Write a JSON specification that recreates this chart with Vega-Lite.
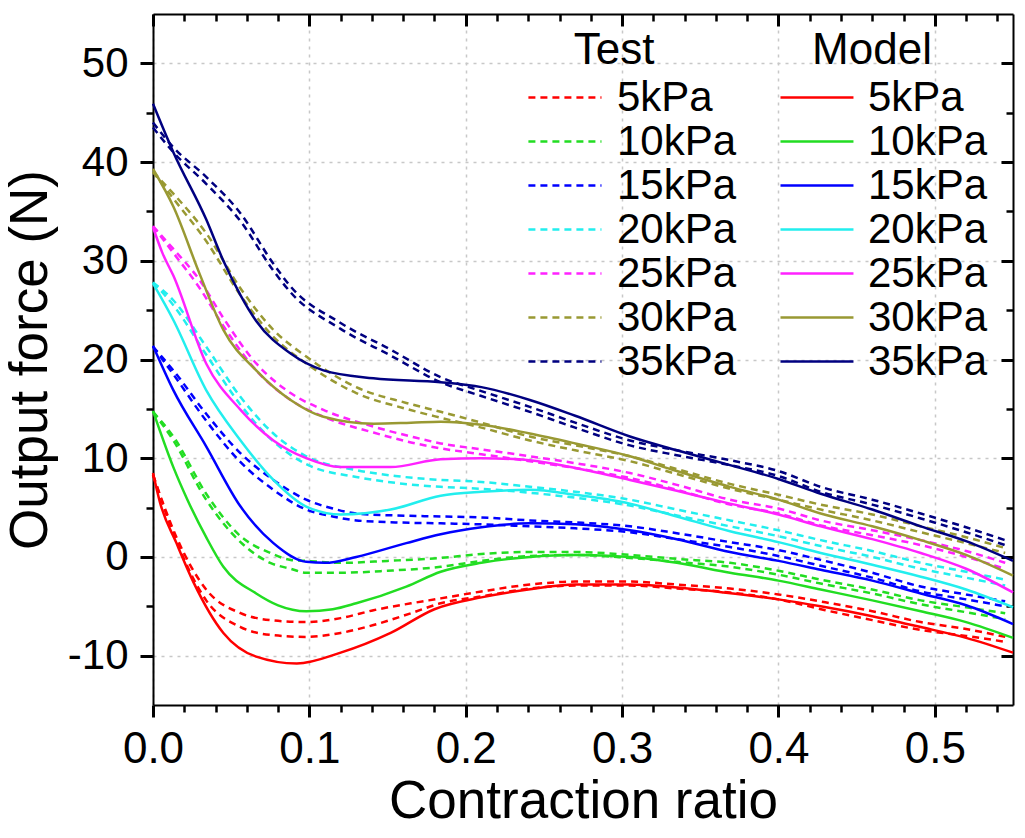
{
  "$schema": "https://vega.github.io/schema/vega-lite/v6.json",
  "width": 860,
  "height": 691,
  "autosize": "none",
  "padding": {"left": 153, "top": 14, "right": 12, "bottom": 133},
  "background": "white",
  "config": {
    "font": "Liberation Sans",
    "view": {"stroke": null},
    "axis": {
      "domainColor": "black", "domainWidth": 2,
      "labelFont": "Liberation Sans", "titleFont": "Liberation Sans",
      "labelColor": "black", "titleColor": "black", "titleFontWeight": "normal"
    }
  },
  "datasets": {
    "model": [
      {"p":"5kPa","x":0,"y":8.5},{"p":"5kPa","x":0.0045,"y":5.5},{"p":"5kPa","x":0.015,"y":1.4},{"p":"5kPa","x":0.026,"y":-2.6},{"p":"5kPa","x":0.045,"y":-7.7},{"p":"5kPa","x":0.066,"y":-10.1},{"p":"5kPa","x":0.092,"y":-10.8},{"p":"5kPa","x":0.12,"y":-9.7},{"p":"5kPa","x":0.152,"y":-7.7},{"p":"5kPa","x":0.18,"y":-5.3},{"p":"5kPa","x":0.21,"y":-4.1},{"p":"5kPa","x":0.24,"y":-3.3},{"p":"5kPa","x":0.27,"y":-2.8},{"p":"5kPa","x":0.305,"y":-2.8},{"p":"5kPa","x":0.335,"y":-3.1},{"p":"5kPa","x":0.365,"y":-3.6},{"p":"5kPa","x":0.4,"y":-4.3},{"p":"5kPa","x":0.427,"y":-5.0},{"p":"5kPa","x":0.46,"y":-6.0},{"p":"5kPa","x":0.491,"y":-7.1},{"p":"5kPa","x":0.52,"y":-8.2},{"p":"5kPa","x":0.55,"y":-9.7},
      {"p":"10kPa","x":0,"y":14.8},{"p":"10kPa","x":0.013,"y":9.1},{"p":"10kPa","x":0.022,"y":5.8},{"p":"10kPa","x":0.034,"y":2.0},{"p":"10kPa","x":0.045,"y":-1.0},{"p":"10kPa","x":0.066,"y":-3.7},{"p":"10kPa","x":0.08,"y":-4.9},{"p":"10kPa","x":0.098,"y":-5.5},{"p":"10kPa","x":0.115,"y":-5.3},{"p":"10kPa","x":0.13,"y":-4.7},{"p":"10kPa","x":0.162,"y":-3.0},{"p":"10kPa","x":0.184,"y":-1.5},{"p":"10kPa","x":0.21,"y":-0.6},{"p":"10kPa","x":0.241,"y":0.0},{"p":"10kPa","x":0.27,"y":0.2},{"p":"10kPa","x":0.305,"y":0.0},{"p":"10kPa","x":0.335,"y":-0.6},{"p":"10kPa","x":0.369,"y":-1.6},{"p":"10kPa","x":0.4,"y":-2.4},{"p":"10kPa","x":0.427,"y":-3.3},{"p":"10kPa","x":0.46,"y":-4.4},{"p":"10kPa","x":0.491,"y":-5.5},{"p":"10kPa","x":0.52,"y":-6.6},{"p":"10kPa","x":0.55,"y":-8.2},
      {"p":"15kPa","x":0,"y":21.4},{"p":"15kPa","x":0.013,"y":16.9},{"p":"15kPa","x":0.034,"y":11.2},{"p":"15kPa","x":0.056,"y":5.1},{"p":"15kPa","x":0.077,"y":1.4},{"p":"15kPa","x":0.098,"y":-0.5},{"p":"15kPa","x":0.11,"y":-0.6},{"p":"15kPa","x":0.13,"y":0.0},{"p":"15kPa","x":0.162,"y":1.4},{"p":"15kPa","x":0.184,"y":2.3},{"p":"15kPa","x":0.21,"y":3.0},{"p":"15kPa","x":0.241,"y":3.4},{"p":"15kPa","x":0.27,"y":3.3},{"p":"15kPa","x":0.305,"y":2.7},{"p":"15kPa","x":0.335,"y":1.8},{"p":"15kPa","x":0.369,"y":0.5},{"p":"15kPa","x":0.4,"y":-0.4},{"p":"15kPa","x":0.427,"y":-1.3},{"p":"15kPa","x":0.46,"y":-2.4},{"p":"15kPa","x":0.491,"y":-3.7},{"p":"15kPa","x":0.52,"y":-4.9},{"p":"15kPa","x":0.55,"y":-6.8},
      {"p":"20kPa","x":0,"y":27.7},{"p":"20kPa","x":0.013,"y":24.0},{"p":"20kPa","x":0.034,"y":16.9},{"p":"20kPa","x":0.056,"y":11.8},{"p":"20kPa","x":0.077,"y":7.8},{"p":"20kPa","x":0.098,"y":5.1},{"p":"20kPa","x":0.12,"y":4.3},{"p":"20kPa","x":0.152,"y":4.8},{"p":"20kPa","x":0.184,"y":6.2},{"p":"20kPa","x":0.21,"y":6.6},{"p":"20kPa","x":0.241,"y":6.8},{"p":"20kPa","x":0.27,"y":6.3},{"p":"20kPa","x":0.305,"y":5.4},{"p":"20kPa","x":0.335,"y":4.1},{"p":"20kPa","x":0.369,"y":2.6},{"p":"20kPa","x":0.4,"y":1.5},{"p":"20kPa","x":0.427,"y":0.4},{"p":"20kPa","x":0.46,"y":-0.8},{"p":"20kPa","x":0.491,"y":-2.0},{"p":"20kPa","x":0.52,"y":-3.3},{"p":"20kPa","x":0.55,"y":-5.1},
      {"p":"25kPa","x":0,"y":33.4},{"p":"25kPa","x":0.006,"y":30.8},{"p":"25kPa","x":0.013,"y":28.5},{"p":"25kPa","x":0.034,"y":19.6},{"p":"25kPa","x":0.056,"y":14.9},{"p":"25kPa","x":0.077,"y":11.8},{"p":"25kPa","x":0.098,"y":10.0},{"p":"25kPa","x":0.12,"y":9.1},{"p":"25kPa","x":0.152,"y":9.1},{"p":"25kPa","x":0.184,"y":9.9},{"p":"25kPa","x":0.21,"y":10.0},{"p":"25kPa","x":0.241,"y":9.8},{"p":"25kPa","x":0.27,"y":9.0},{"p":"25kPa","x":0.305,"y":7.8},{"p":"25kPa","x":0.335,"y":6.7},{"p":"25kPa","x":0.369,"y":5.4},{"p":"25kPa","x":0.4,"y":4.3},{"p":"25kPa","x":0.427,"y":3.1},{"p":"25kPa","x":0.46,"y":1.8},{"p":"25kPa","x":0.491,"y":0.4},{"p":"25kPa","x":0.52,"y":-1.2},{"p":"25kPa","x":0.55,"y":-3.6},
      {"p":"30kPa","x":0,"y":39.3},{"p":"30kPa","x":0.013,"y":35.5},{"p":"30kPa","x":0.03,"y":28.6},{"p":"30kPa","x":0.045,"y":23.0},{"p":"30kPa","x":0.066,"y":18.9},{"p":"30kPa","x":0.088,"y":15.9},{"p":"30kPa","x":0.109,"y":14.2},{"p":"30kPa","x":0.141,"y":13.5},{"p":"30kPa","x":0.165,"y":13.6},{"p":"30kPa","x":0.184,"y":13.7},{"p":"30kPa","x":0.21,"y":13.4},{"p":"30kPa","x":0.241,"y":12.5},{"p":"30kPa","x":0.27,"y":11.5},{"p":"30kPa","x":0.305,"y":10.2},{"p":"30kPa","x":0.335,"y":8.7},{"p":"30kPa","x":0.369,"y":7.1},{"p":"30kPa","x":0.4,"y":5.8},{"p":"30kPa","x":0.427,"y":4.4},{"p":"30kPa","x":0.46,"y":3.1},{"p":"30kPa","x":0.491,"y":1.7},{"p":"30kPa","x":0.52,"y":0.2},{"p":"30kPa","x":0.55,"y":-1.9},
      {"p":"35kPa","x":0,"y":45.9},{"p":"35kPa","x":0.013,"y":41.0},{"p":"35kPa","x":0.034,"y":34.2},{"p":"35kPa","x":0.045,"y":30.0},{"p":"35kPa","x":0.056,"y":26.5},{"p":"35kPa","x":0.066,"y":23.9},{"p":"35kPa","x":0.088,"y":20.6},{"p":"35kPa","x":0.109,"y":18.9},{"p":"35kPa","x":0.141,"y":18.1},{"p":"35kPa","x":0.184,"y":17.7},{"p":"35kPa","x":0.21,"y":17.2},{"p":"35kPa","x":0.241,"y":15.9},{"p":"35kPa","x":0.27,"y":14.3},{"p":"35kPa","x":0.305,"y":12.2},{"p":"35kPa","x":0.335,"y":10.8},{"p":"35kPa","x":0.369,"y":9.3},{"p":"35kPa","x":0.4,"y":7.9},{"p":"35kPa","x":0.427,"y":6.4},{"p":"35kPa","x":0.46,"y":4.8},{"p":"35kPa","x":0.491,"y":3.1},{"p":"35kPa","x":0.52,"y":1.6},{"p":"35kPa","x":0.55,"y":-0.4}
    ],
    "test": [
      {"p":"5kPa","s":"A","x":0,"y":8.3},{"p":"5kPa","s":"A","x":0.015,"y":2.0},{"p":"5kPa","s":"A","x":0.034,"y":-3.3},{"p":"5kPa","s":"A","x":0.056,"y":-5.7},{"p":"5kPa","s":"A","x":0.075,"y":-6.4},{"p":"5kPa","s":"A","x":0.098,"y":-6.6},{"p":"5kPa","s":"A","x":0.12,"y":-6.2},{"p":"5kPa","s":"A","x":0.141,"y":-5.4},{"p":"5kPa","s":"A","x":0.165,"y":-4.7},{"p":"5kPa","s":"A","x":0.184,"y":-4.2},{"p":"5kPa","s":"A","x":0.21,"y":-3.5},{"p":"5kPa","s":"A","x":0.241,"y":-2.8},{"p":"5kPa","s":"A","x":0.27,"y":-2.5},{"p":"5kPa","s":"A","x":0.305,"y":-2.5},{"p":"5kPa","s":"A","x":0.335,"y":-2.8},{"p":"5kPa","s":"A","x":0.369,"y":-3.2},{"p":"5kPa","s":"A","x":0.4,"y":-3.8},{"p":"5kPa","s":"A","x":0.43,"y":-4.6},{"p":"5kPa","s":"A","x":0.46,"y":-5.5},{"p":"5kPa","s":"A","x":0.491,"y":-6.6},{"p":"5kPa","s":"A","x":0.52,"y":-7.3},{"p":"5kPa","s":"A","x":0.545,"y":-8.1},
      {"p":"5kPa","s":"B","x":0,"y":8.3},{"p":"5kPa","s":"B","x":0.015,"y":1.6},{"p":"5kPa","s":"B","x":0.034,"y":-4.4},{"p":"5kPa","s":"B","x":0.056,"y":-7.1},{"p":"5kPa","s":"B","x":0.075,"y":-7.9},{"p":"5kPa","s":"B","x":0.098,"y":-8.1},{"p":"5kPa","s":"B","x":0.12,"y":-7.7},{"p":"5kPa","s":"B","x":0.141,"y":-6.9},{"p":"5kPa","s":"B","x":0.165,"y":-5.7},{"p":"5kPa","s":"B","x":0.184,"y":-4.7},{"p":"5kPa","s":"B","x":0.21,"y":-4.0},{"p":"5kPa","s":"B","x":0.241,"y":-3.2},{"p":"5kPa","s":"B","x":0.27,"y":-2.9},{"p":"5kPa","s":"B","x":0.305,"y":-2.9},{"p":"5kPa","s":"B","x":0.335,"y":-3.2},{"p":"5kPa","s":"B","x":0.369,"y":-3.6},{"p":"5kPa","s":"B","x":0.4,"y":-4.3},{"p":"5kPa","s":"B","x":0.43,"y":-5.4},{"p":"5kPa","s":"B","x":0.46,"y":-6.4},{"p":"5kPa","s":"B","x":0.491,"y":-7.4},{"p":"5kPa","s":"B","x":0.52,"y":-8.0},{"p":"5kPa","s":"B","x":0.545,"y":-8.6},
      {"p":"10kPa","s":"A","x":0,"y":14.7},{"p":"10kPa","s":"A","x":0.013,"y":12.2},{"p":"10kPa","s":"A","x":0.034,"y":6.4},{"p":"10kPa","s":"A","x":0.056,"y":2.1},{"p":"10kPa","s":"A","x":0.075,"y":0.4},{"p":"10kPa","s":"A","x":0.088,"y":-0.3},{"p":"10kPa","s":"A","x":0.098,"y":-0.4},{"p":"10kPa","s":"A","x":0.12,"y":-0.6},{"p":"10kPa","s":"A","x":0.15,"y":-0.4},{"p":"10kPa","s":"A","x":0.184,"y":-0.1},{"p":"10kPa","s":"A","x":0.21,"y":0.3},{"p":"10kPa","s":"A","x":0.241,"y":0.5},{"p":"10kPa","s":"A","x":0.27,"y":0.5},{"p":"10kPa","s":"A","x":0.305,"y":0.2},{"p":"10kPa","s":"A","x":0.335,"y":-0.2},{"p":"10kPa","s":"A","x":0.369,"y":-0.6},{"p":"10kPa","s":"A","x":0.4,"y":-1.4},{"p":"10kPa","s":"A","x":0.427,"y":-2.3},{"p":"10kPa","s":"A","x":0.46,"y":-3.3},{"p":"10kPa","s":"A","x":0.491,"y":-4.4},{"p":"10kPa","s":"A","x":0.52,"y":-5.1},{"p":"10kPa","s":"A","x":0.545,"y":-5.7},
      {"p":"10kPa","s":"B","x":0,"y":14.7},{"p":"10kPa","s":"B","x":0.013,"y":11.8},{"p":"10kPa","s":"B","x":0.034,"y":5.8},{"p":"10kPa","s":"B","x":0.056,"y":1.5},{"p":"10kPa","s":"B","x":0.075,"y":-0.6},{"p":"10kPa","s":"B","x":0.088,"y":-1.2},{"p":"10kPa","s":"B","x":0.098,"y":-1.6},{"p":"10kPa","s":"B","x":0.12,"y":-1.6},{"p":"10kPa","s":"B","x":0.15,"y":-1.4},{"p":"10kPa","s":"B","x":0.184,"y":-1.0},{"p":"10kPa","s":"B","x":0.21,"y":-0.4},{"p":"10kPa","s":"B","x":0.241,"y":0.1},{"p":"10kPa","s":"B","x":0.27,"y":0.2},{"p":"10kPa","s":"B","x":0.305,"y":-0.1},{"p":"10kPa","s":"B","x":0.335,"y":-0.5},{"p":"10kPa","s":"B","x":0.369,"y":-1.0},{"p":"10kPa","s":"B","x":0.4,"y":-1.8},{"p":"10kPa","s":"B","x":0.427,"y":-2.7},{"p":"10kPa","s":"B","x":0.46,"y":-3.7},{"p":"10kPa","s":"B","x":0.491,"y":-4.8},{"p":"10kPa","s":"B","x":0.52,"y":-5.6},{"p":"10kPa","s":"B","x":0.545,"y":-6.3},
      {"p":"15kPa","s":"A","x":0,"y":21.3},{"p":"15kPa","s":"A","x":0.013,"y":18.9},{"p":"15kPa","s":"A","x":0.034,"y":14.5},{"p":"15kPa","s":"A","x":0.056,"y":10.5},{"p":"15kPa","s":"A","x":0.077,"y":7.8},{"p":"15kPa","s":"A","x":0.098,"y":5.8},{"p":"15kPa","s":"A","x":0.115,"y":4.9},{"p":"15kPa","s":"A","x":0.13,"y":4.4},{"p":"15kPa","s":"A","x":0.155,"y":4.2},{"p":"15kPa","s":"A","x":0.184,"y":4.1},{"p":"15kPa","s":"A","x":0.21,"y":4.0},{"p":"15kPa","s":"A","x":0.241,"y":3.7},{"p":"15kPa","s":"A","x":0.27,"y":3.5},{"p":"15kPa","s":"A","x":0.305,"y":3.1},{"p":"15kPa","s":"A","x":0.335,"y":2.4},{"p":"15kPa","s":"A","x":0.369,"y":1.5},{"p":"15kPa","s":"A","x":0.4,"y":0.7},{"p":"15kPa","s":"A","x":0.427,"y":-0.3},{"p":"15kPa","s":"A","x":0.46,"y":-1.6},{"p":"15kPa","s":"A","x":0.491,"y":-3.0},{"p":"15kPa","s":"A","x":0.52,"y":-3.8},{"p":"15kPa","s":"A","x":0.545,"y":-4.5},
      {"p":"15kPa","s":"B","x":0,"y":21.3},{"p":"15kPa","s":"B","x":0.013,"y":18.5},{"p":"15kPa","s":"B","x":0.034,"y":13.8},{"p":"15kPa","s":"B","x":0.056,"y":9.6},{"p":"15kPa","s":"B","x":0.077,"y":6.8},{"p":"15kPa","s":"B","x":0.098,"y":4.8},{"p":"15kPa","s":"B","x":0.115,"y":4.1},{"p":"15kPa","s":"B","x":0.13,"y":3.7},{"p":"15kPa","s":"B","x":0.155,"y":3.5},{"p":"15kPa","s":"B","x":0.184,"y":3.4},{"p":"15kPa","s":"B","x":0.21,"y":3.3},{"p":"15kPa","s":"B","x":0.241,"y":3.1},{"p":"15kPa","s":"B","x":0.27,"y":2.9},{"p":"15kPa","s":"B","x":0.305,"y":2.5},{"p":"15kPa","s":"B","x":0.335,"y":1.8},{"p":"15kPa","s":"B","x":0.369,"y":1.0},{"p":"15kPa","s":"B","x":0.4,"y":0.1},{"p":"15kPa","s":"B","x":0.427,"y":-0.9},{"p":"15kPa","s":"B","x":0.46,"y":-2.1},{"p":"15kPa","s":"B","x":0.491,"y":-3.5},{"p":"15kPa","s":"B","x":0.52,"y":-4.3},{"p":"15kPa","s":"B","x":0.545,"y":-5.0},
      {"p":"20kPa","s":"A","x":0,"y":27.8},{"p":"20kPa","s":"A","x":0.013,"y":26.0},{"p":"20kPa","s":"A","x":0.034,"y":21.3},{"p":"20kPa","s":"A","x":0.056,"y":16.2},{"p":"20kPa","s":"A","x":0.077,"y":12.5},{"p":"20kPa","s":"A","x":0.098,"y":10.2},{"p":"20kPa","s":"A","x":0.13,"y":8.8},{"p":"20kPa","s":"A","x":0.155,"y":8.2},{"p":"20kPa","s":"A","x":0.184,"y":7.8},{"p":"20kPa","s":"A","x":0.21,"y":7.6},{"p":"20kPa","s":"A","x":0.241,"y":7.1},{"p":"20kPa","s":"A","x":0.27,"y":6.6},{"p":"20kPa","s":"A","x":0.305,"y":5.8},{"p":"20kPa","s":"A","x":0.335,"y":4.8},{"p":"20kPa","s":"A","x":0.369,"y":3.7},{"p":"20kPa","s":"A","x":0.4,"y":2.7},{"p":"20kPa","s":"A","x":0.427,"y":1.7},{"p":"20kPa","s":"A","x":0.46,"y":0.6},{"p":"20kPa","s":"A","x":0.491,"y":-0.6},{"p":"20kPa","s":"A","x":0.52,"y":-1.5},{"p":"20kPa","s":"A","x":0.545,"y":-2.3},
      {"p":"20kPa","s":"B","x":0,"y":27.8},{"p":"20kPa","s":"B","x":0.013,"y":25.5},{"p":"20kPa","s":"B","x":0.034,"y":20.5},{"p":"20kPa","s":"B","x":0.056,"y":15.4},{"p":"20kPa","s":"B","x":0.077,"y":11.7},{"p":"20kPa","s":"B","x":0.098,"y":9.4},{"p":"20kPa","s":"B","x":0.13,"y":8.1},{"p":"20kPa","s":"B","x":0.155,"y":7.5},{"p":"20kPa","s":"B","x":0.184,"y":7.1},{"p":"20kPa","s":"B","x":0.21,"y":6.9},{"p":"20kPa","s":"B","x":0.241,"y":6.5},{"p":"20kPa","s":"B","x":0.27,"y":6.0},{"p":"20kPa","s":"B","x":0.305,"y":5.2},{"p":"20kPa","s":"B","x":0.335,"y":4.2},{"p":"20kPa","s":"B","x":0.369,"y":3.1},{"p":"20kPa","s":"B","x":0.4,"y":2.1},{"p":"20kPa","s":"B","x":0.427,"y":1.1},{"p":"20kPa","s":"B","x":0.46,"y":0.0},{"p":"20kPa","s":"B","x":0.491,"y":-1.2},{"p":"20kPa","s":"B","x":0.52,"y":-2.1},{"p":"20kPa","s":"B","x":0.545,"y":-2.9},
      {"p":"25kPa","s":"A","x":0,"y":33.5},{"p":"25kPa","s":"A","x":0.013,"y":31.2},{"p":"25kPa","s":"A","x":0.03,"y":28.0},{"p":"25kPa","s":"A","x":0.045,"y":24.2},{"p":"25kPa","s":"A","x":0.066,"y":19.6},{"p":"25kPa","s":"A","x":0.088,"y":16.6},{"p":"25kPa","s":"A","x":0.109,"y":14.9},{"p":"25kPa","s":"A","x":0.141,"y":13.2},{"p":"25kPa","s":"A","x":0.165,"y":12.2},{"p":"25kPa","s":"A","x":0.184,"y":11.5},{"p":"25kPa","s":"A","x":0.21,"y":10.9},{"p":"25kPa","s":"A","x":0.241,"y":10.2},{"p":"25kPa","s":"A","x":0.27,"y":9.5},{"p":"25kPa","s":"A","x":0.305,"y":8.5},{"p":"25kPa","s":"A","x":0.335,"y":7.3},{"p":"25kPa","s":"A","x":0.369,"y":5.8},{"p":"25kPa","s":"A","x":0.4,"y":4.9},{"p":"25kPa","s":"A","x":0.427,"y":3.7},{"p":"25kPa","s":"A","x":0.46,"y":2.7},{"p":"25kPa","s":"A","x":0.491,"y":1.7},{"p":"25kPa","s":"A","x":0.52,"y":0.6},{"p":"25kPa","s":"A","x":0.545,"y":-0.6},
      {"p":"25kPa","s":"B","x":0,"y":33.5},{"p":"25kPa","s":"B","x":0.013,"y":30.8},{"p":"25kPa","s":"B","x":0.03,"y":27.2},{"p":"25kPa","s":"B","x":0.045,"y":23.4},{"p":"25kPa","s":"B","x":0.066,"y":18.9},{"p":"25kPa","s":"B","x":0.088,"y":15.9},{"p":"25kPa","s":"B","x":0.109,"y":14.2},{"p":"25kPa","s":"B","x":0.141,"y":12.6},{"p":"25kPa","s":"B","x":0.165,"y":11.6},{"p":"25kPa","s":"B","x":0.184,"y":11.0},{"p":"25kPa","s":"B","x":0.21,"y":10.4},{"p":"25kPa","s":"B","x":0.241,"y":9.7},{"p":"25kPa","s":"B","x":0.27,"y":9.0},{"p":"25kPa","s":"B","x":0.305,"y":8.0},{"p":"25kPa","s":"B","x":0.335,"y":6.8},{"p":"25kPa","s":"B","x":0.369,"y":5.3},{"p":"25kPa","s":"B","x":0.4,"y":4.4},{"p":"25kPa","s":"B","x":0.427,"y":3.2},{"p":"25kPa","s":"B","x":0.46,"y":2.2},{"p":"25kPa","s":"B","x":0.491,"y":1.2},{"p":"25kPa","s":"B","x":0.52,"y":0.0},{"p":"25kPa","s":"B","x":0.545,"y":-1.2},
      {"p":"30kPa","s":"A","x":0,"y":39.0},{"p":"30kPa","s":"A","x":0.013,"y":36.8},{"p":"30kPa","s":"A","x":0.034,"y":32.8},{"p":"30kPa","s":"A","x":0.056,"y":27.2},{"p":"30kPa","s":"A","x":0.077,"y":23.0},{"p":"30kPa","s":"A","x":0.098,"y":20.3},{"p":"30kPa","s":"A","x":0.13,"y":17.2},{"p":"30kPa","s":"A","x":0.162,"y":15.6},{"p":"30kPa","s":"A","x":0.184,"y":14.7},{"p":"30kPa","s":"A","x":0.21,"y":13.6},{"p":"30kPa","s":"A","x":0.241,"y":12.2},{"p":"30kPa","s":"A","x":0.27,"y":11.3},{"p":"30kPa","s":"A","x":0.305,"y":10.2},{"p":"30kPa","s":"A","x":0.335,"y":8.9},{"p":"30kPa","s":"A","x":0.369,"y":7.4},{"p":"30kPa","s":"A","x":0.4,"y":6.3},{"p":"30kPa","s":"A","x":0.427,"y":5.3},{"p":"30kPa","s":"A","x":0.46,"y":4.3},{"p":"30kPa","s":"A","x":0.491,"y":3.1},{"p":"30kPa","s":"A","x":0.52,"y":2.0},{"p":"30kPa","s":"A","x":0.545,"y":0.9},
      {"p":"30kPa","s":"B","x":0,"y":39.0},{"p":"30kPa","s":"B","x":0.013,"y":36.3},{"p":"30kPa","s":"B","x":0.034,"y":32.0},{"p":"30kPa","s":"B","x":0.056,"y":26.5},{"p":"30kPa","s":"B","x":0.077,"y":22.3},{"p":"30kPa","s":"B","x":0.098,"y":19.6},{"p":"30kPa","s":"B","x":0.13,"y":16.6},{"p":"30kPa","s":"B","x":0.162,"y":15.0},{"p":"30kPa","s":"B","x":0.184,"y":14.1},{"p":"30kPa","s":"B","x":0.21,"y":13.1},{"p":"30kPa","s":"B","x":0.241,"y":11.8},{"p":"30kPa","s":"B","x":0.27,"y":10.8},{"p":"30kPa","s":"B","x":0.305,"y":9.7},{"p":"30kPa","s":"B","x":0.335,"y":8.4},{"p":"30kPa","s":"B","x":0.369,"y":6.9},{"p":"30kPa","s":"B","x":0.4,"y":5.8},{"p":"30kPa","s":"B","x":0.427,"y":4.8},{"p":"30kPa","s":"B","x":0.46,"y":3.7},{"p":"30kPa","s":"B","x":0.491,"y":2.5},{"p":"30kPa","s":"B","x":0.52,"y":1.4},{"p":"30kPa","s":"B","x":0.545,"y":0.4},
      {"p":"35kPa","s":"A","x":0,"y":44.0},{"p":"35kPa","s":"A","x":0.013,"y":41.5},{"p":"35kPa","s":"A","x":0.034,"y":38.5},{"p":"35kPa","s":"A","x":0.056,"y":34.8},{"p":"35kPa","s":"A","x":0.077,"y":29.7},{"p":"35kPa","s":"A","x":0.088,"y":27.4},{"p":"35kPa","s":"A","x":0.12,"y":23.7},{"p":"35kPa","s":"A","x":0.152,"y":21.0},{"p":"35kPa","s":"A","x":0.184,"y":18.2},{"p":"35kPa","s":"A","x":0.21,"y":16.8},{"p":"35kPa","s":"A","x":0.241,"y":15.2},{"p":"35kPa","s":"A","x":0.27,"y":13.6},{"p":"35kPa","s":"A","x":0.305,"y":11.8},{"p":"35kPa","s":"A","x":0.335,"y":10.8},{"p":"35kPa","s":"A","x":0.369,"y":9.8},{"p":"35kPa","s":"A","x":0.4,"y":8.7},{"p":"35kPa","s":"A","x":0.427,"y":7.1},{"p":"35kPa","s":"A","x":0.46,"y":5.8},{"p":"35kPa","s":"A","x":0.491,"y":4.4},{"p":"35kPa","s":"A","x":0.52,"y":3.0},{"p":"35kPa","s":"A","x":0.545,"y":1.7},
      {"p":"35kPa","s":"B","x":0,"y":43.5},{"p":"35kPa","s":"B","x":0.013,"y":41.0},{"p":"35kPa","s":"B","x":0.034,"y":37.8},{"p":"35kPa","s":"B","x":0.056,"y":34.0},{"p":"35kPa","s":"B","x":0.077,"y":29.0},{"p":"35kPa","s":"B","x":0.088,"y":26.8},{"p":"35kPa","s":"B","x":0.12,"y":23.1},{"p":"35kPa","s":"B","x":0.152,"y":20.4},{"p":"35kPa","s":"B","x":0.184,"y":17.7},{"p":"35kPa","s":"B","x":0.21,"y":16.3},{"p":"35kPa","s":"B","x":0.241,"y":14.7},{"p":"35kPa","s":"B","x":0.27,"y":13.1},{"p":"35kPa","s":"B","x":0.305,"y":11.3},{"p":"35kPa","s":"B","x":0.335,"y":10.3},{"p":"35kPa","s":"B","x":0.369,"y":9.3},{"p":"35kPa","s":"B","x":0.4,"y":8.2},{"p":"35kPa","s":"B","x":0.427,"y":6.6},{"p":"35kPa","s":"B","x":0.46,"y":5.3},{"p":"35kPa","s":"B","x":0.491,"y":3.9},{"p":"35kPa","s":"B","x":0.52,"y":2.5},{"p":"35kPa","s":"B","x":0.545,"y":1.2}
    ]
  },
  "layer": [
    {
      "data": {"name": "model"},
      "mark": {"type": "line", "strokeOpacity": 0},
      "encoding": {
        "x": {"field": "x", "type": "quantitative", "scale": {"domain": [0, 0.55], "nice": false, "zero": false},
          "axis": {"orient": "bottom", "values": [0, 0.1, 0.2, 0.3, 0.4, 0.5], "grid": true, "gridColor": "#c8c8c8", "gridDash": [3, 5], "gridWidth": 1.5, "ticks": false, "labels": false, "domain": false, "title": null}},
        "y": {"field": "y", "type": "quantitative", "scale": {"domain": [-15, 55], "nice": false, "zero": false},
          "axis": {"orient": "left", "values": [-10, 0, 10, 20, 30, 40, 50], "grid": true, "gridColor": "#c8c8c8", "gridDash": [3, 5], "gridWidth": 1.5, "ticks": false, "labels": false, "domain": false, "title": null}},
        "detail": {"field": "p"}
      }
    },
    {
      "data": {"name": "test"},
      "mark": {"type": "line", "strokeDash": [7, 5], "strokeWidth": 2.5, "interpolate": "monotone"},
      "encoding": {
        "x": {
          "field": "x", "type": "quantitative",
          "scale": {"domain": [0, 0.55], "nice": false, "zero": false},
          "axis": {
            "orient": "bottom", "values": [0, 0.1, 0.2, 0.3, 0.4, 0.5], "format": ".1f", "grid": false,
            "tickSize": 12, "tickColor": "black", "tickWidth": 3,
            "labelFontSize": 44, "labelPadding": 10, "labelFlush": false, "labelOverlap": false,
            "title": "Contraction ratio", "titleFontSize": 53, "titlePadding": 4
          }
        },
        "y": {
          "field": "y", "type": "quantitative",
          "scale": {"domain": [-15, 55], "nice": false, "zero": false},
          "axis": {
            "orient": "left", "values": [-10, 0, 10, 20, 30, 40, 50], "labelExpr": "'' + datum.value", "grid": false,
            "tickSize": 13, "tickColor": "black", "tickWidth": 3,
            "labelFontSize": 42, "labelPadding": 12, "labelFlush": false, "labelOverlap": false,
            "title": "Output force (N)", "titleFontSize": 53, "titlePadding": 10
          }
        },
        "color": {
          "field": "p", "type": "nominal",
          "scale": {"domain": ["5kPa","10kPa","15kPa","20kPa","25kPa","30kPa","35kPa"], "range": ["#ff0000","#22dd22","#0000ff","#22eeee","#ff22ff","#999933","#000080"]},
          "legend": {
            "title": "Test", "orient": "none", "legendX": 338, "legendY": 15,
            "symbolType": "M0.71,0H4.19", "symbolSize": 1764, "symbolStrokeWidth": 2.5, "symbolDash": [7, 5],
            "labelFontSize": 42, "labelFont": "Liberation Sans", "labelColor": "black", "labelOffset": 81,
            "titleFontSize": 44, "titleFont": "Liberation Sans", "titleFontWeight": "normal", "titleColor": "black",
            "titleAnchor": "middle", "titlePadding": 2, "rowPadding": -1, "padding": 0
          }
        },
        "detail": {"field": "s"}
      }
    },
    {
      "data": {"name": "model"},
      "mark": {"type": "line", "strokeWidth": 2.5, "interpolate": "monotone"},
      "encoding": {
        "x": {
          "field": "x", "type": "quantitative",
          "scale": {"domain": [0, 0.55], "nice": false, "zero": false},
          "axis": {"orient": "top", "values": [0, 0.1, 0.2, 0.3, 0.4, 0.5], "labels": false, "grid": false, "title": null, "tickSize": -12, "tickColor": "black", "tickWidth": 3}
        },
        "y": {
          "field": "y", "type": "quantitative",
          "scale": {"domain": [-15, 55], "nice": false, "zero": false},
          "axis": {"orient": "right", "values": [-10, 0, 10, 20, 30, 40, 50], "labels": false, "grid": false, "title": null, "tickSize": -12, "tickColor": "black", "tickWidth": 3}
        },
        "color": {
          "field": "p", "type": "nominal",
          "scale": {"domain": ["5kPa","10kPa","15kPa","20kPa","25kPa","30kPa","35kPa"], "range": ["#ff0000","#22dd22","#0000ff","#22eeee","#ff22ff","#999933","#000080"]},
          "legend": {
            "title": "Model", "orient": "none", "legendX": 603, "legendY": 15,
            "symbolType": "M0.095,0H3.57", "symbolSize": 1764, "symbolStrokeWidth": 2.5,
            "labelFontSize": 42, "labelFont": "Liberation Sans", "labelColor": "black", "labelOffset": 67,
            "titleFontSize": 44, "titleFont": "Liberation Sans", "titleFontWeight": "normal", "titleColor": "black",
            "titleAnchor": "middle", "titlePadding": 2, "rowPadding": -1, "padding": 0
          }
        }
      }
    },
    {
      "data": {"name": "model"},
      "mark": {"type": "line", "strokeOpacity": 0},
      "encoding": {
        "x": {"field": "x", "type": "quantitative", "scale": {"domain": [0, 0.55], "nice": false, "zero": false},
          "axis": {"orient": "bottom", "values": [0.02,0.04,0.06,0.08,0.12,0.14,0.16,0.18,0.22,0.24,0.26,0.28,0.32,0.34,0.36,0.38,0.42,0.44,0.46,0.48,0.52,0.54], "labels": false, "grid": false, "title": null, "domain": false, "tickSize": 7, "tickColor": "black", "tickWidth": 2.5}},
        "y": {"field": "y", "type": "quantitative", "scale": {"domain": [-15, 55], "nice": false, "zero": false},
          "axis": {"orient": "left", "values": [-5, 5, 15, 25, 35, 45], "labels": false, "grid": false, "title": null, "domain": false, "tickSize": 7, "tickColor": "black", "tickWidth": 2.5}},
        "detail": {"field": "p"}
      }
    },
    {
      "data": {"name": "model"},
      "mark": {"type": "line", "strokeOpacity": 0},
      "encoding": {
        "x": {"field": "x", "type": "quantitative", "scale": {"domain": [0, 0.55], "nice": false, "zero": false},
          "axis": {"orient": "top", "values": [0.02,0.04,0.06,0.08,0.12,0.14,0.16,0.18,0.22,0.24,0.26,0.28,0.32,0.34,0.36,0.38,0.42,0.44,0.46,0.48,0.52,0.54], "labels": false, "grid": false, "title": null, "domain": false, "tickSize": -7, "tickColor": "black", "tickWidth": 2.5}},
        "y": {"field": "y", "type": "quantitative", "scale": {"domain": [-15, 55], "nice": false, "zero": false},
          "axis": {"orient": "right", "values": [-5, 5, 15, 25, 35, 45], "labels": false, "grid": false, "title": null, "domain": false, "tickSize": -7, "tickColor": "black", "tickWidth": 2.5}},
        "detail": {"field": "p"}
      }
    }
  ],
  "resolve": {
    "scale": {"color": "independent"},
    "axis": {"x": "independent", "y": "independent"},
    "legend": {"color": "independent"}
  }
}
